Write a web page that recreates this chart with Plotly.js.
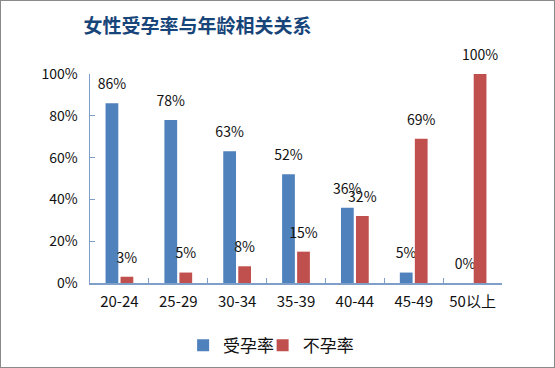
<!DOCTYPE html>
<html><head><meta charset="utf-8">
<script src="https://cdn.plot.ly/plotly-3.0.1.min.js"></script>
<style>html,body{margin:0;padding:0;background:#fff;}#chart{width:553px;height:366px;border:1px solid #8a8a8a;}</style>
</head><body><div id="chart"></div>
<script>
const categories = ['20-24','25-29','30-34','35-39','40-44','45-49','50以上'];
const fertileRate = [0.86,0.78,0.63,0.52,0.36,0.05,0.00];
const infertileRate = [0.03,0.05,0.08,0.15,0.32,0.69,1.00];
const seriesNames = ['受孕率','不孕率'];
const fontFam = '"Noto Sans CJK SC", "Liberation Sans", sans-serif';
const labelTpl = '<span style="font-size:14px">%{y:.0%}</span><br> ';
const lblFont = {size:7,color:'#111',family:fontFam};
const traces = [
  {type:'bar', name:seriesNames[0], x:categories, y:fertileRate, marker:{color:'#4F81BD'}, legend:'legend',
   texttemplate:labelTpl, textposition:'outside', textfont:lblFont, outsidetextfont:lblFont, constraintext:'none', cliponaxis:false, hoverinfo:'none'},
  {type:'bar', name:seriesNames[1], x:categories, y:infertileRate, marker:{color:'#C0504D'}, legend:'legend2',
   texttemplate:labelTpl, textposition:'outside', textfont:lblFont, outsidetextfont:lblFont, constraintext:'none', cliponaxis:false, hoverinfo:'none'}
];
const legFont = {family:fontFam, size:17, color:'#111'};
const layout = {
  width:553, height:366,
  margin:{l:89, r:52, t:73, b:84, autoexpand:false},
  paper_bgcolor:'#fff', plot_bgcolor:'#fff',
  title:{text:'<b>女性受孕率与年龄相关关系</b>', x:0.149, xanchor:'left', y:0.93, yanchor:'middle',
         font:{family:fontFam, size:19, color:'#17457A'}},
  barmode:'group', bargap:0.49, bargroupgap:0.15,
  xaxis:{type:'category', showline:true, linecolor:'#7F9FC9', linewidth:1.5, ticks:'inside', ticklen:5, tickcolor:'#7F9FC9',
         tickson:'boundaries', showgrid:false, tickfont:{family:fontFam, size:15, color:'#111'}, ticklabelstandoff:4, fixedrange:true},
  yaxis:{range:[0,1], dtick:0.2, tickformat:'.0%', showline:true, linecolor:'#7F9FC9', linewidth:1.5, ticks:'inside', ticklen:5,
         tickcolor:'#7F9FC9', showgrid:false, zeroline:false, tickfont:{family:fontFam, size:14, color:'#111'}, ticklabelstandoff:8, fixedrange:true},
  legend:{orientation:'h', xref:'paper', x:0.226, xanchor:'left', y:-0.30, yanchor:'middle', font:legFont, itemwidth:30, bgcolor:'rgba(0,0,0,0)'},
  legend2:{orientation:'h', xref:'paper', x:0.419, xanchor:'left', y:-0.30, yanchor:'middle', font:legFont, itemwidth:30, bgcolor:'rgba(0,0,0,0)'},
  showlegend:true
};
Plotly.newPlot('chart', traces, layout, {displayModeBar:false, staticPlot:true});
</script></body></html>
